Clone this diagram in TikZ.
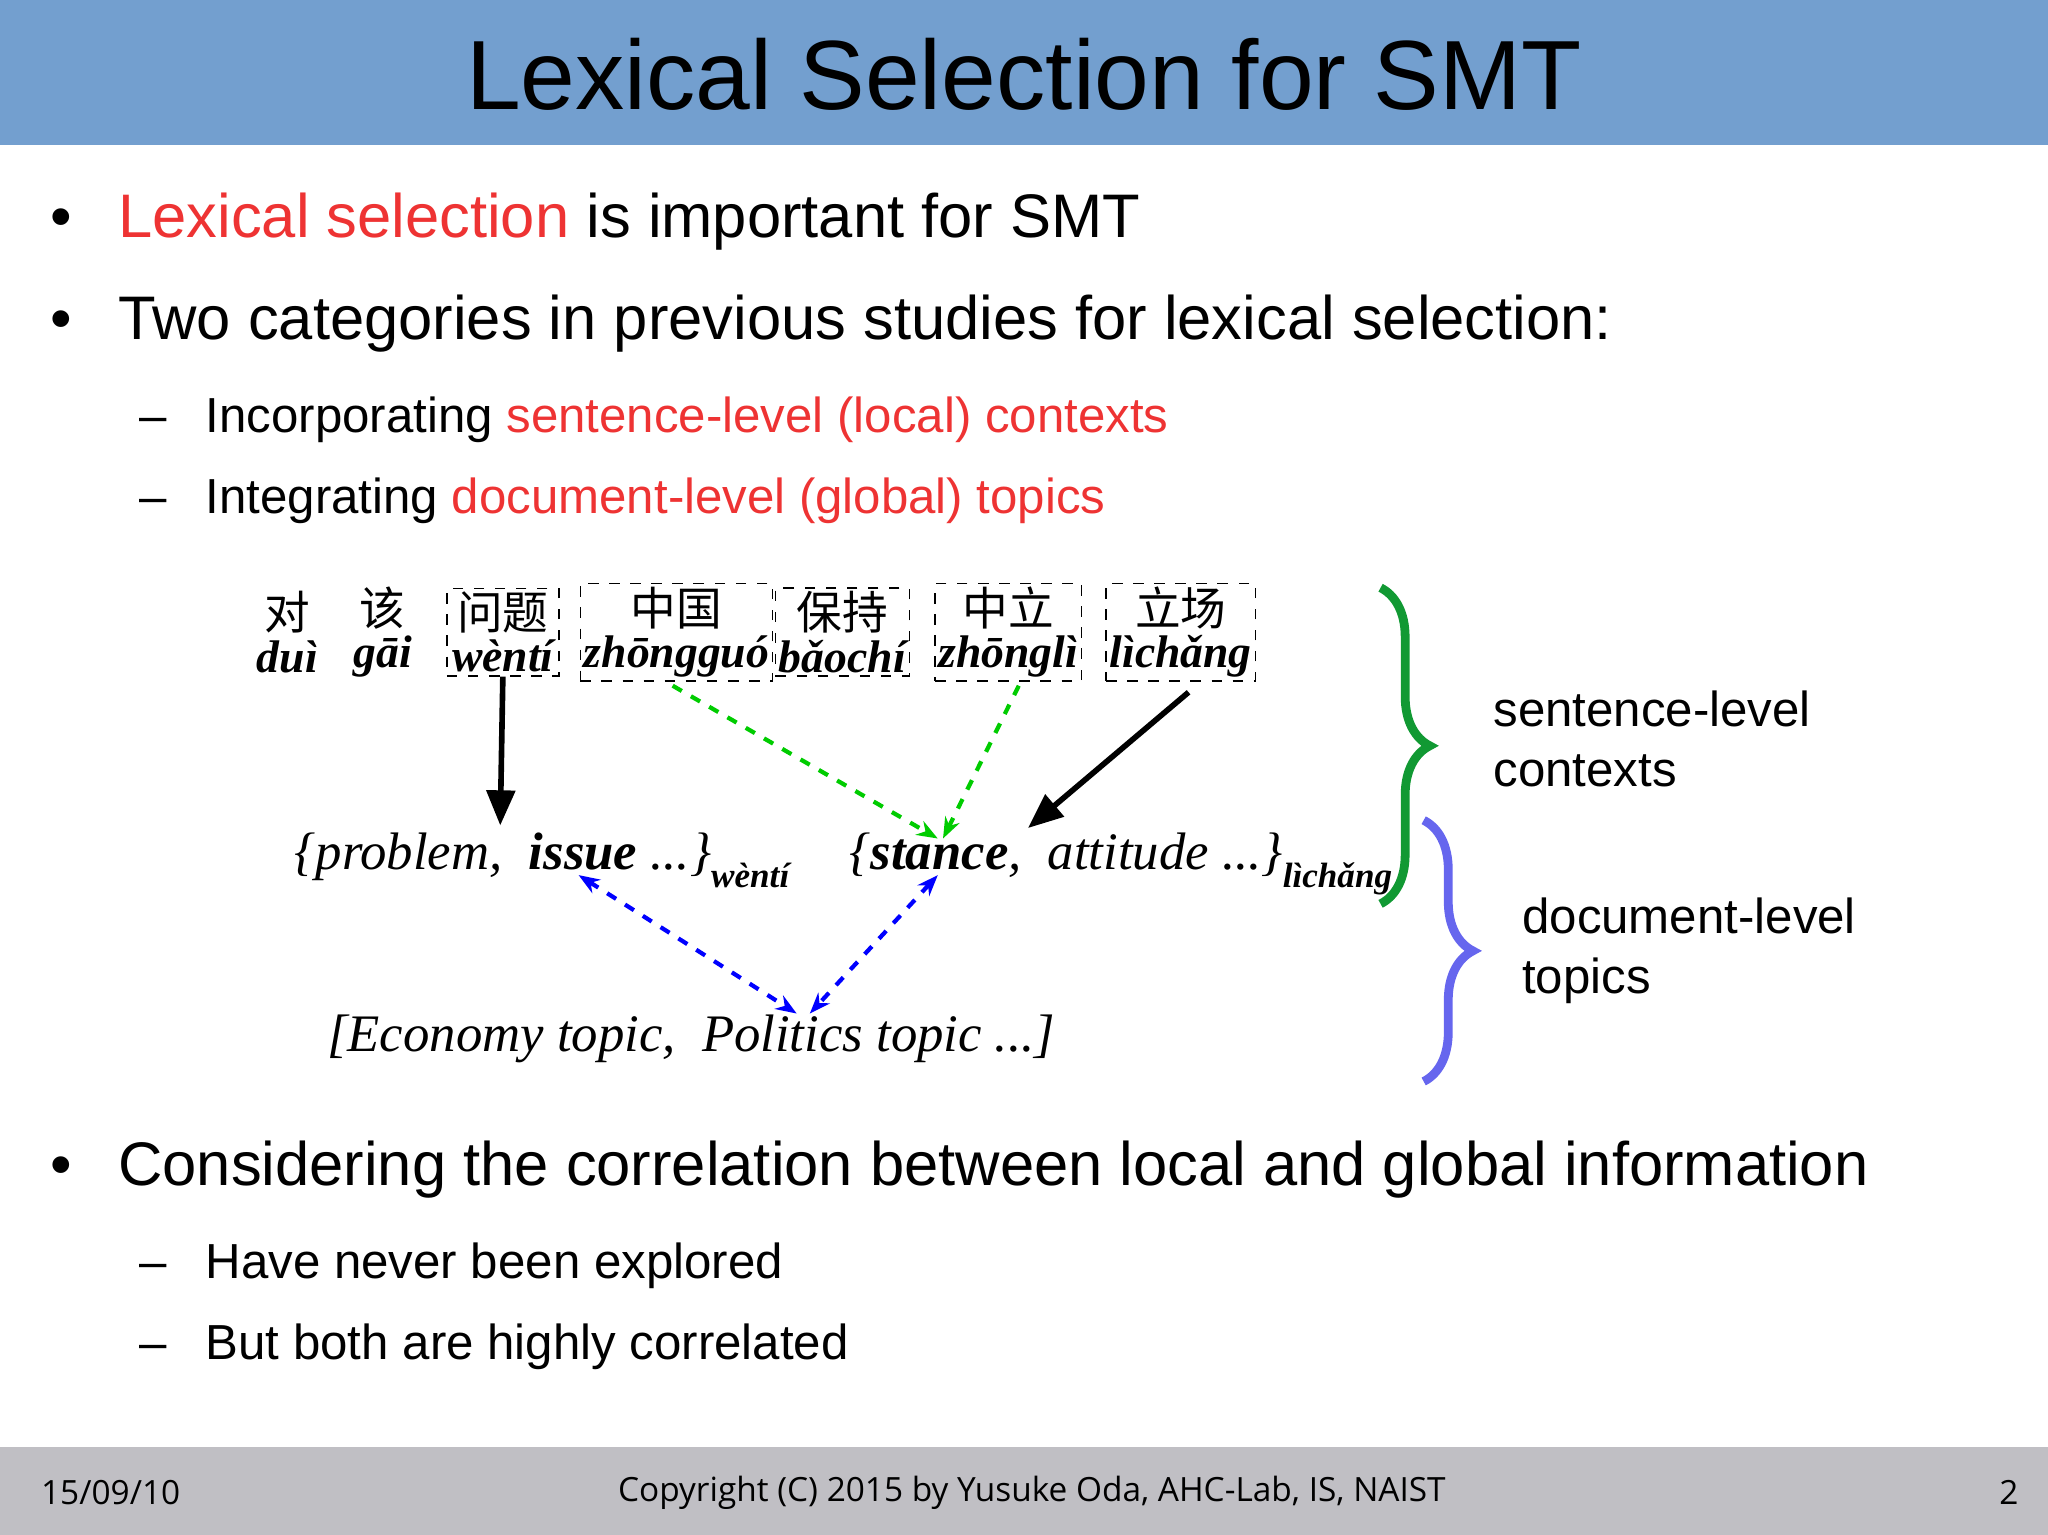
\documentclass[tikz,border=0pt]{standalone}
\usepackage{fontspec}
\setmainfont{Liberation Sans}
\newfontfamily\tms{Liberation Serif}
\newfontfamily\cjk{Noto Sans CJK SC}
\newfontfamily\foot{Open Sans}
\usetikzlibrary{decorations.pathreplacing,arrows.meta}
\definecolor{titlebar}{HTML}{739FCF}
\definecolor{footbar}{HTML}{C0BFC4}
\definecolor{hl}{HTML}{EE3333}
\definecolor{gbr}{HTML}{119933}
\definecolor{bbr}{HTML}{6666EE}
\begin{document}
\begin{tikzpicture}[x=0.013061cm,y=-0.013061cm,
  bul/.style={anchor=base west,font=\fontsize{17.5}{20}\selectfont,inner sep=0},
  sub/.style={anchor=base west,font=\fontsize{14}{17}\selectfont,inner sep=0},
  zh/.style={align=center,inner sep=1pt,font=\fontsize{13}{15}\selectfont},
  zhb/.style={zh,draw,dashed,minimum height=0.86cm},
  it/.style={anchor=base west,inner sep=0,font=\tms\itshape\fontsize{15}{18}\selectfont},
  lab/.style={anchor=west,align=left,font=\fontsize{14}{17}\selectfont},
  blk/.style={-{Triangle[length=10pt,width=8pt]},line width=1.6pt},
  grn/.style={-{Stealth[length=6pt]},dashed,green!80!black,line width=1.2pt},
  blu/.style={{Stealth[length=6pt]}-{Stealth[length=6pt]},dashed,blue,line width=1.2pt},
  br/.style={decorate,decoration={brace,amplitude=14pt},line width=2.5pt}]
\useasboundingbox (0,0) rectangle (1568,1175);
\fill[titlebar] (0,0) rectangle (1568,111);
\node (title) at (784,57) {\fontsize{28}{32}\selectfont Lexical Selection for SMT};
\fill[footbar] (0,1108) rectangle (1568,1175);
% bullets
\node[bul] (d1) at (38,182) {•};
\node[bul] (b1) at (90,182) {\textcolor{hl}{Lexical selection} is important for SMT};
\node[bul] (d2) at (38,260) {•};
\node[bul] (b2) at (90,260) {Two categories in previous studies for lexical selection:};
\node[sub] (s1d) at (106,331) {–};
\node[sub] (s1) at (157,331) {Incorporating \textcolor{hl}{sentence-level (local) contexts}};
\node[sub] (s2d) at (106,393) {–};
\node[sub] (s2) at (157,393) {Integrating \textcolor{hl}{document-level (global) topics}};
\node[bul] (d3) at (38,908) {•};
\node[bul] (b3) at (90,908) {Considering the correlation between local and global information};
\node[sub] (s3d) at (106,979) {–};
\node[sub] (s3) at (157,979) {Have never been explored};
\node[sub] (s4d) at (106,1041) {–};
\node[sub] (s4) at (157,1041) {But both are highly correlated};
% chinese words
\newcommand\py[1]{{\tms\bfseries\itshape #1}}
\node[zh] (w1) at (220,484) {{\cjk 对}\\[-3pt]\py{duì}};
\node[zh] (w2) at (293,484) {{\cjk 该}\\[-3pt]\py{gāi}};
\node[zhb,minimum width=1.12cm] (w3) at (385,484) {{\cjk 问题}\\[-3pt]\py{wèntí}};
\node[zhb,minimum width=1.75cm] (w4) at (518,484) {{\cjk 中国}\\[-3pt]\py{zhōngguó}};
\node[zhb,minimum width=1.24cm] (w5) at (645,484) {{\cjk 保持}\\[-3pt]\py{bǎochí}};
\node[zhb,minimum width=1.36cm] (w6) at (772,484) {{\cjk 中立}\\[-3pt]\py{zhōnglì}};
\node[zhb,minimum width=1.35cm] (w7) at (904,484) {{\cjk 立场}\\[-3pt]\py{lìchǎng}};
% candidates
\node[it] (c1) at (225,666) {\{problem,\ \ \textbf{issue} ...\}\raisebox{-5pt}{\fontsize{10}{10}\selectfont\bfseries wèntí}};
\node[it] (c2) at (650,666) {\{\textbf{stance},\ \ attitude ...\}\raisebox{-5pt}{\fontsize{10}{10}\selectfont\bfseries lìchǎng}};
\node[it] (tp) at (250,805) {[Economy topic,\ \ Politics topic ...]};
\coordinate (issue) at (443,670);
\coordinate (stance) at (718,670);
\coordinate (ptop) at (615,776);
\coordinate (st1) at (718,642);
\coordinate (st2) at (722,642);
\draw[blk] (w3.south) -- (383,632);
\draw[blk] (910,530) -- (787,634);
\draw[grn] (515,525) -- (st1);
\draw[grn] (780,525) -- (st2);
\draw[blu] (issue) -- (610,776);
\draw[blu] (stance) -- (620,776);
% braces
\draw[br,gbr] (1057,450) -- (1057,692);
\draw[br,bbr] (1090,628) -- (1090,828);
\node[lab] (l1) at (1134,566) {sentence-level\\contexts};
\node[lab] (l2) at (1156,728) {document-level\\topics};
% footer
\node[anchor=west,font=\foot\fontsize{9.5}{11}\selectfont] (f1) at (22,1143) {15/09/10};
\node[font=\foot\fontsize{9.5}{11}\selectfont] (f2) at (790,1143) {Copyright (C) 2015 by Yusuke Oda, AHC-Lab, IS, NAIST};
\node[font=\foot\fontsize{9.5}{11}\selectfont] (f3) at (1538,1143) {2};
\end{tikzpicture}
\end{document}
